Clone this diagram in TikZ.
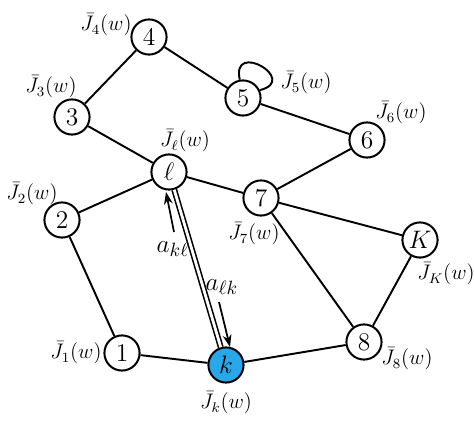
\documentclass[tikz,border=0pt]{standalone}
\usetikzlibrary{arrows.meta}
\definecolor{kblue}{RGB}{40,168,232}
\begin{document}
\begin{tikzpicture}[x=0.02cm,y=-0.02cm,
  vtx/.style={circle,draw,line width=1.15pt,fill=white,minimum size=20pt,inner sep=0pt,font=\fontsize{14.5}{15}\selectfont},
  lab/.style={font=\fontsize{12}{14}\selectfont,inner sep=0pt},
  alab/.style={font=\fontsize{15.5}{17}\selectfont,inner sep=0pt},
  edg/.style={line width=1.1pt},
  arr/.style={line width=1pt,-{Stealth[length=7pt,width=5pt]}}]
\useasboundingbox (0,0) rectangle (474,425);
% nodes
\node[vtx] (n4) at (149,37) {4};
\node[vtx] (n3) at (72,117) {3};
\node[vtx] (n5) at (243,98) {5};
\node[vtx] (n6) at (367,140) {6};
\node[vtx] (nl) at (169,172) {$\ell$};
\node[vtx] (n2) at (62,220) {2};
\node[vtx] (n7) at (261,198) {7};
\node[vtx] (nK) at (420,240) {$K$};
\node[vtx] (n1) at (122,353) {1};
\node[vtx,fill=kblue] (nk) at (226,365) {$k$};
\node[vtx] (n8) at (364,342) {8};
% edges
\draw[edg] (n4) -- (n3);
\draw[edg] (n4) -- (n5);
\draw[edg] (n5) -- (n6);
\draw[edg] (n3) -- (nl);
\draw[edg] (nl) -- (n2);
\draw[edg] (nl) -- (n7);
\draw[edg] (n6) -- (n7);
\draw[edg] (n7) -- (nK);
\draw[edg] (n7) -- (n8);
\draw[edg] (nK) -- (n8);
\draw[edg] (n2) -- (n1);
\draw[edg] (n1) -- (nk);
\draw[edg] (nk) -- (n8);
\draw[line width=0.9pt,double,double distance=1.6pt] (nl) -- (nk);
\draw[edg] (n5.100) .. controls +(-9,-40) and +(40,-10) .. (n5.25);
% arrows
\coordinate (a1s) at (174,232);
\coordinate (a1e) at (166,192);
\coordinate (a2s) at (219,302);
\coordinate (a2e) at (230,347);
\draw[arr] (a1s) -- (a1e);
\draw[arr] (a2s) -- (a2e);
\node[alab] (akl) at (173,249) {$a_{k\ell}$};
\node[alab] (alk) at (222,287) {$a_{\ell k}$};
% labels
\node[lab] (J4) at (106,25) {$\bar J_4(w)$};
\node[lab] (J3) at (51,87) {$\bar J_3(w)$};
\node[lab] (Jl) at (185,141) {$\bar J_\ell(w)$};
\node[lab] (J5) at (306,83) {$\bar J_5(w)$};
\node[lab] (J6) at (401,113) {$\bar J_6(w)$};
\node[lab] (J2) at (32,194) {$\bar J_2(w)$};
\node[lab] (J7) at (254,234) {$\bar J_7(w)$};
\node[lab] (JK) at (446,274) {$\bar J_K(w)$};
\node[lab] (J1) at (76,353) {$\bar J_1(w)$};
\node[lab] (Jk) at (226,403) {$\bar J_k(w)$};
\node[lab] (J8) at (407,359) {$\bar J_8(w)$};
\end{tikzpicture}
\end{document}
